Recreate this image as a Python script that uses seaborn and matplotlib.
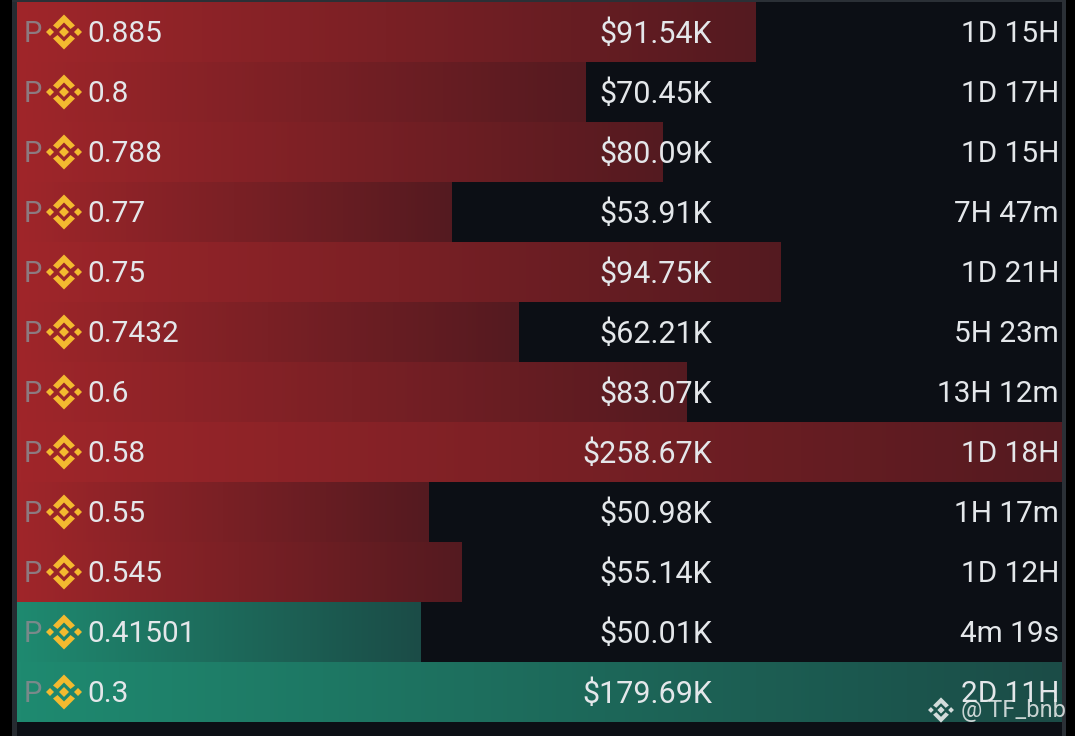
import numpy as np
import pandas as pd
import matplotlib
matplotlib.use("Agg")
import matplotlib.pyplot as plt
import seaborn as sns
from matplotlib.colors import LinearSegmentedColormap
from matplotlib.patches import Polygon, Rectangle

# Values
strikes = ["0.885", "0.8", "0.788", "0.77", "0.75", "0.7432", "0.6", "0.58", "0.55", "0.545", "0.41501", "0.3"]
premium_k = [91.54, 70.45, 80.09, 53.91, 94.75, 62.21, 83.07, 258.67, 50.98, 55.14, 50.01, 179.69]
premium_labels = ["$91.54K", "$70.45K", "$80.09K", "$53.91K", "$94.75K", "$62.21K", "$83.07K",
                  "$258.67K", "$50.98K", "$55.14K", "$50.01K", "$179.69K"]
expiry = ["1D 15H", "1D 17H", "1D 15H", "7H 47m", "1D 21H", "5H 23m", "13H 12m",
          "1D 18H", "1H 17m", "1D 12H", "4m 19s", "2D 11H"]
side = ["put"] * 10 + ["call"] * 2

BG = "#0c0f15"
TEXT = "#e4e7ea"
GOLD = "#f3ba2f"
ramps = {"put": ("#a0262a", "#541a20"), "call": ("#1f8a70", "#1b4c47")}

sns.set_theme(style="white")
plt.rcParams["font.family"] = ["Roboto", "DejaVu Sans"]

W, H = 1075, 736
fig = plt.figure(figsize=(W / 100, H / 100), dpi=100, facecolor="#000000")

# Bars are clipped by the x limit, the two big rows run off the panel
ax = fig.add_axes([17 / W, 1 - 722 / H, (1062 - 17) / W, (722 - 2) / H], facecolor=BG)
df = pd.DataFrame({"strike": strikes, "premium": premium_k})
sns.barplot(data=df, x="premium", y="strike", orient="h", width=1.0, color="#a0262a", ax=ax)

xmax = 129.6
for bar, s in zip(ax.patches, side):
    cmap = LinearSegmentedColormap.from_list("ramp", ramps[s])
    y0 = bar.get_y()
    right = min(bar.get_width(), xmax)
    ax.imshow(np.linspace(0, 1, 256).reshape(1, -1), cmap=cmap, aspect="auto",
              extent=(0, right, y0 + bar.get_height(), y0), zorder=3)
    bar.set_visible(False)

ax.set_xlim(0, xmax)
ax.set_ylim(11.5, -0.5)
ax.set(xticks=[], yticks=[], xlabel="", ylabel="")
sns.despine(ax=ax, left=True, bottom=True)

# Overlay in pixel coordinates for the frame, icons and labels
ov = fig.add_axes([0, 0, 1, 1], facecolor="none")
ov.set_xlim(0, W)
ov.set_ylim(H, 0)
ov.set_axis_off()

ov.add_patch(Rectangle((17, 722), 1045, 14, color=BG, lw=0))
ov.add_patch(Rectangle((12, 0), 5, H, color="#262b31", lw=0))
ov.add_patch(Rectangle((1062, 0), 4, H, color="#2b3036", lw=0))
ov.add_patch(Rectangle((12, 0), 1054, 2, color="#2b3036", lw=0))


def logo(cx, cy, scale, color, **kw):
    # diamond mark: centre, two sides, top and bottom chevrons
    for dx, r in [(0, 5), (-14, 4), (14, 4)]:
        ov.add_patch(Polygon([(cx + (dx - r) * scale, cy),
                              (cx + dx * scale, cy - r * scale),
                              (cx + (dx + r) * scale, cy),
                              (cx + dx * scale, cy + r * scale)], color=color, lw=0, **kw))
    for sign in (-1, 1):
        pts = [(0, 17.5), (11, 6.5), (6.5, 3), (0, 9.5), (-6.5, 3), (-11, 6.5)]
        ov.add_patch(Polygon([(cx + px * scale, cy + sign * py * scale) for px, py in pts],
                             color=color, lw=0, **kw))


for i, (st, pl, ex) in enumerate(zip(strikes, premium_labels, expiry)):
    yc = 34 + 60 * i
    ov.text(24, yc, "P", color="#8a8a90", alpha=0.85, fontsize=21, va="center", ha="left")
    logo(64, yc - 2, 1, GOLD)
    ov.text(87, yc, st, color=TEXT, fontsize=21.5, va="center", ha="left")
    ov.text(712, yc, pl, color=TEXT, fontsize=22, va="center", ha="right")
    ov.text(1059, yc, ex, color=TEXT, fontsize=21.4, va="center", ha="right")

# Watermark
logo(941, 710, 0.72, "#e8ecec", alpha=0.9)
ov.text(961, 710, "@ TF_bnb", color="#e8ecec", alpha=0.85, fontsize=17, va="center", ha="left")

fig.savefig("out.png", dpi=100, facecolor=fig.get_facecolor())
